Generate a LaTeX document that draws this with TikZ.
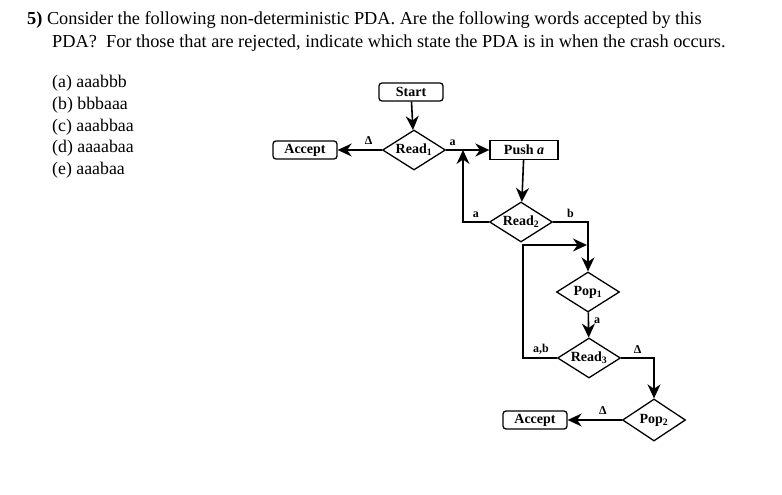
\documentclass[tikz,border=0pt]{standalone}
\usepackage{fontspec}
\setmainfont{Liberation Serif}
\usetikzlibrary{shapes.geometric,arrows.meta}
\begin{document}
\begin{tikzpicture}[x=1pt,y=-1pt,
  lab/.style={font=\fontsize{12}{13}\selectfont\bfseries, inner sep=0pt},
  term/.style={draw, line width=1.3pt, rounded corners=3pt, minimum width=64pt, minimum height=18pt, inner sep=0pt, font=\fontsize{14}{15}\selectfont\bfseries},
  boxx/.style={draw, line width=1.3pt, minimum width=68pt, minimum height=19pt, inner sep=0pt, font=\fontsize{14}{15}\selectfont\bfseries},
  dia/.style={draw, diamond, line width=1.3pt, aspect=1.55, inner sep=0pt, minimum width=63pt, minimum height=40pt, font=\fontsize{14}{15}\selectfont\bfseries},
  arr/.style={line width=1.6pt, -{Stealth[length=14pt,width=13pt,inset=4.5pt]}},
  txt/.style={anchor=base west, inner sep=0pt, font=\fontsize{18.3}{20}\selectfont}]
\useasboundingbox (0,0) rectangle (782,495);
% question text
\node[txt] (q1) at (27,25) {\textbf{5)} Consider the following non-deterministic PDA. Are the following words accepted by this};
\node[txt] (q2) at (52,48) {PDA?\ \ For those that are rejected, indicate which state the PDA is in when the crash occurs.};
\node[txt, font=\fontsize{17.8}{19}\selectfont] (la) at (52,88) {(a) aaabbb};
\node[txt, font=\fontsize{17.8}{19}\selectfont] (lb) at (52,109.5) {(b) bbbaaa};
\node[txt, font=\fontsize{17.8}{19}\selectfont] (lc) at (52,131) {(c) aaabbaa};
\node[txt, font=\fontsize{17.8}{19}\selectfont] (ld) at (52,152.5) {(d) aaaabaa};
\node[txt, font=\fontsize{17.8}{19}\selectfont] (le) at (52,174) {(e) aaabaa};
% nodes
\node[term] (start) at (411,92) {Start};
\node[dia] (r1) at (414,150) {Read\textsubscript{1}};
\node[term] (acc1) at (305,150) {Accept};
\node[boxx] (push) at (524,150) {Push \textit{a}};
\node[dia] (r2) at (521,222) {Read\textsubscript{2}};
\node[dia] (p1) at (588,292) {Pop\textsubscript{1}};
\node[dia] (r3) at (589,358) {Read\textsubscript{3}};
\node[dia, minimum height=42pt] (p2) at (654,420) {Pop\textsubscript{2}};
\node[term] (acc2) at (535,420) {Accept};
\coordinate (j1) at (463,150);
\coordinate (j2) at (587,245);
\coordinate (c3) at (523,358);
\coordinate (c4) at (523,245);
% connectors
\draw[arr] (start) -- (r1);
\draw[arr] (r1) -- (acc1) node[lab, pos=0.3, above=5pt] {Δ};
\draw[arr] (r1.east) -- (push.west) node[lab, pos=0.15, above=4pt] {a};
\draw[arr] (push) -- (r2);
\draw[arr] (r2.west) -| (j1) node[lab, pos=0.25, above=4pt] {a};
\draw[arr] (r2.east) -| (p1.north) node[lab, pos=0.25, above=4pt] {b};
\draw[arr] (p1) -- (r3) node[lab, pos=0.35, right=5pt] {a};
\draw[arr] (r3.west) -- (c3) -- (c4) -- (j2);
\node[lab] (lab) at (541,349) {a,b};
\draw[arr] (r3.east) -| (p2.north) node[lab, pos=0.25, above=4pt] {Δ};
\draw[arr] (p2.west) -- (acc2.east) node[lab, pos=0.35, above=5pt] {Δ};
\end{tikzpicture}
\end{document}
